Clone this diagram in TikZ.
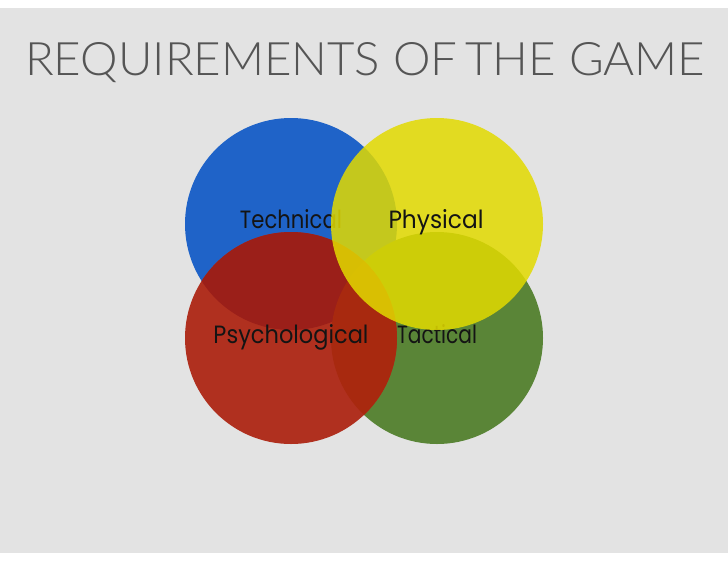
\documentclass[tikz,border=0pt]{standalone}
\usepackage{fontspec}
\setmainfont{Lato}
\newfontfamily\titlefont{Lato Light}
\newfontfamily\labelfont{Poppins}
\definecolor{paper}{HTML}{E3E3E3}
\definecolor{titlegray}{HTML}{555555}
\definecolor{cblue}{HTML}{1F63C8}
\definecolor{cred}{HTML}{B0301F}
\definecolor{cgreen}{HTML}{5A8537}
\definecolor{cyellow}{RGB}{226,218,0}
\definecolor{redblue}{HTML}{9B1F19}
\definecolor{redgreen}{HTML}{A8290F}
\definecolor{labeltext}{HTML}{141414}
\tikzset{
  lbl/.style={anchor=base, inner sep=0pt, text=labeltext, font=\labelfont},
  ttl/.style={anchor=base west, inner sep=0pt, text=titlegray, font=\titlefont},
}
\begin{document}
\begin{tikzpicture}[x=1pt,y=-1pt]
\useasboundingbox (0,0) rectangle (728,563);
\fill[white] (0,0) rectangle (728,563);
\fill[paper] (0,8) rectangle (728,553);
\node[ttl] (title) at (25,75) {\resizebox{680pt}{33pt}{REQUIREMENTS OF\,THE GAME}};
\coordinate (cb) at (291,224);
\coordinate (cy) at (437,224);
\coordinate (cr) at (291,338);
\coordinate (cg) at (437,338);
% blue
\fill[cblue] (cb) circle (106);
\node[lbl] (tech) at (291,228) {\resizebox{102pt}{19pt}{Technical}};
% green
\fill[cgreen] (cg) circle (106);
\node[lbl] (tact) at (437,343) {\resizebox{80pt}{19pt}{Tactical}};
% red
\fill[cred] (cr) circle (106);
\begin{scope}
  \clip (cr) circle (106);
  \fill[redblue] (cb) circle (106);
  \fill[redgreen] (cg) circle (106);
\end{scope}
\node[lbl] (psych) at (291,343) {\resizebox{155pt}{19pt}{Psychological}};
% yellow
\fill[cyellow, fill opacity=0.85] (cy) circle (106);
\node[lbl] (phys) at (436,228) {\resizebox{95pt}{19pt}{Physical}};
\end{tikzpicture}
\end{document}
